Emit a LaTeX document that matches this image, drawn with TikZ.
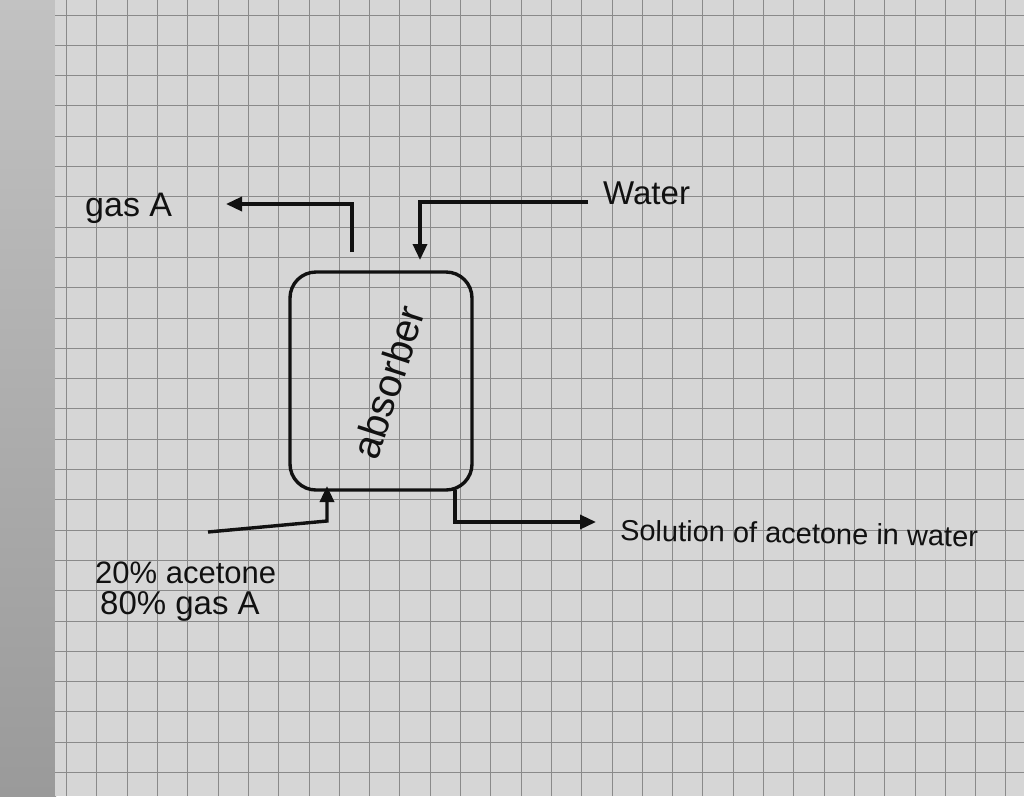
\documentclass[tikz,border=0pt]{standalone}
\usepackage{fontspec}
\setmainfont{Liberation Sans}
\usetikzlibrary{arrows.meta}
\definecolor{paper}{HTML}{D6D6D6}
\definecolor{deskTop}{HTML}{C2C2C2}
\definecolor{deskBot}{HTML}{9A9A9A}
\definecolor{gridc}{HTML}{8A8A8A}
\definecolor{ink}{HTML}{111111}
\tikzset{
  flow/.style={draw=ink, line width=3.4pt, -{Triangle[length=16pt,width=14pt]}},
  vessel/.style={draw=ink, line width=3.4pt, rounded corners=26pt, minimum width=182pt, minimum height=218pt},
  label/.style={text=ink, font=\fontsize{31}{35}\selectfont, inner sep=0pt},
  gridline/.style={draw=gridc, line width=1pt}
}
\begin{document}
\begin{tikzpicture}[x=1pt,y=-1pt]
\useasboundingbox (0,0) rectangle (1024,796);
% desk and paper
\shade[top color=deskTop, bottom color=deskBot] (0,0) rectangle (56,796);
\fill[paper] (55,0) rectangle (1024,796);
% grid
\foreach \i in {0,...,31} {\draw[gridline] ({66.6+30.3*\i},0) -- ({66.6+30.3*\i},796);}
\foreach \j in {0,...,26} {\draw[gridline] (55,{15+30.3*\j}) -- (1024,{15+30.3*\j});}
% absorber
\node[vessel] (abs) at (381,381) {};
\node[label, font=\fontsize{40}{44}\selectfont, rotate=72] (absl) at (388,382) {absorber};
% labels
\node[label, anchor=west, font=\fontsize{34}{38}\selectfont] (gasA) at (85,208) {gas A};
\node[label, anchor=west, font=\fontsize{33}{37}\selectfont] (water) at (603,193) {Water};
\node[label, anchor=west] (feed1) at (95,573) {20\% acetone};
\node[label, anchor=west, font=\fontsize{33}{37}\selectfont] (feed2) at (100,606) {80\% gas A};
\node[label, anchor=west, font=\fontsize{29}{33}\selectfont, rotate=-1] (prod) at (620,530) {Solution of acetone in water};
% connector end points
\coordinate (g1) at (352,252);
\coordinate (g2) at (226,204);
\coordinate (w1) at (588,202);
\coordinate (w2) at (420,260);
\coordinate (f1) at (208,532);
\coordinate (f1c) at (327,521);
\coordinate (f2) at (327,486);
\coordinate (o1) at (455,490);
\coordinate (o2) at (596,522);
% connectors
\draw[flow] (g1) |- (g2);
\draw[flow] (w1) -| (w2);
\draw[flow] (f1) -- (f1c) -- (f2);
\draw[flow] (o1) |- (o2);
\end{tikzpicture}
\end{document}
